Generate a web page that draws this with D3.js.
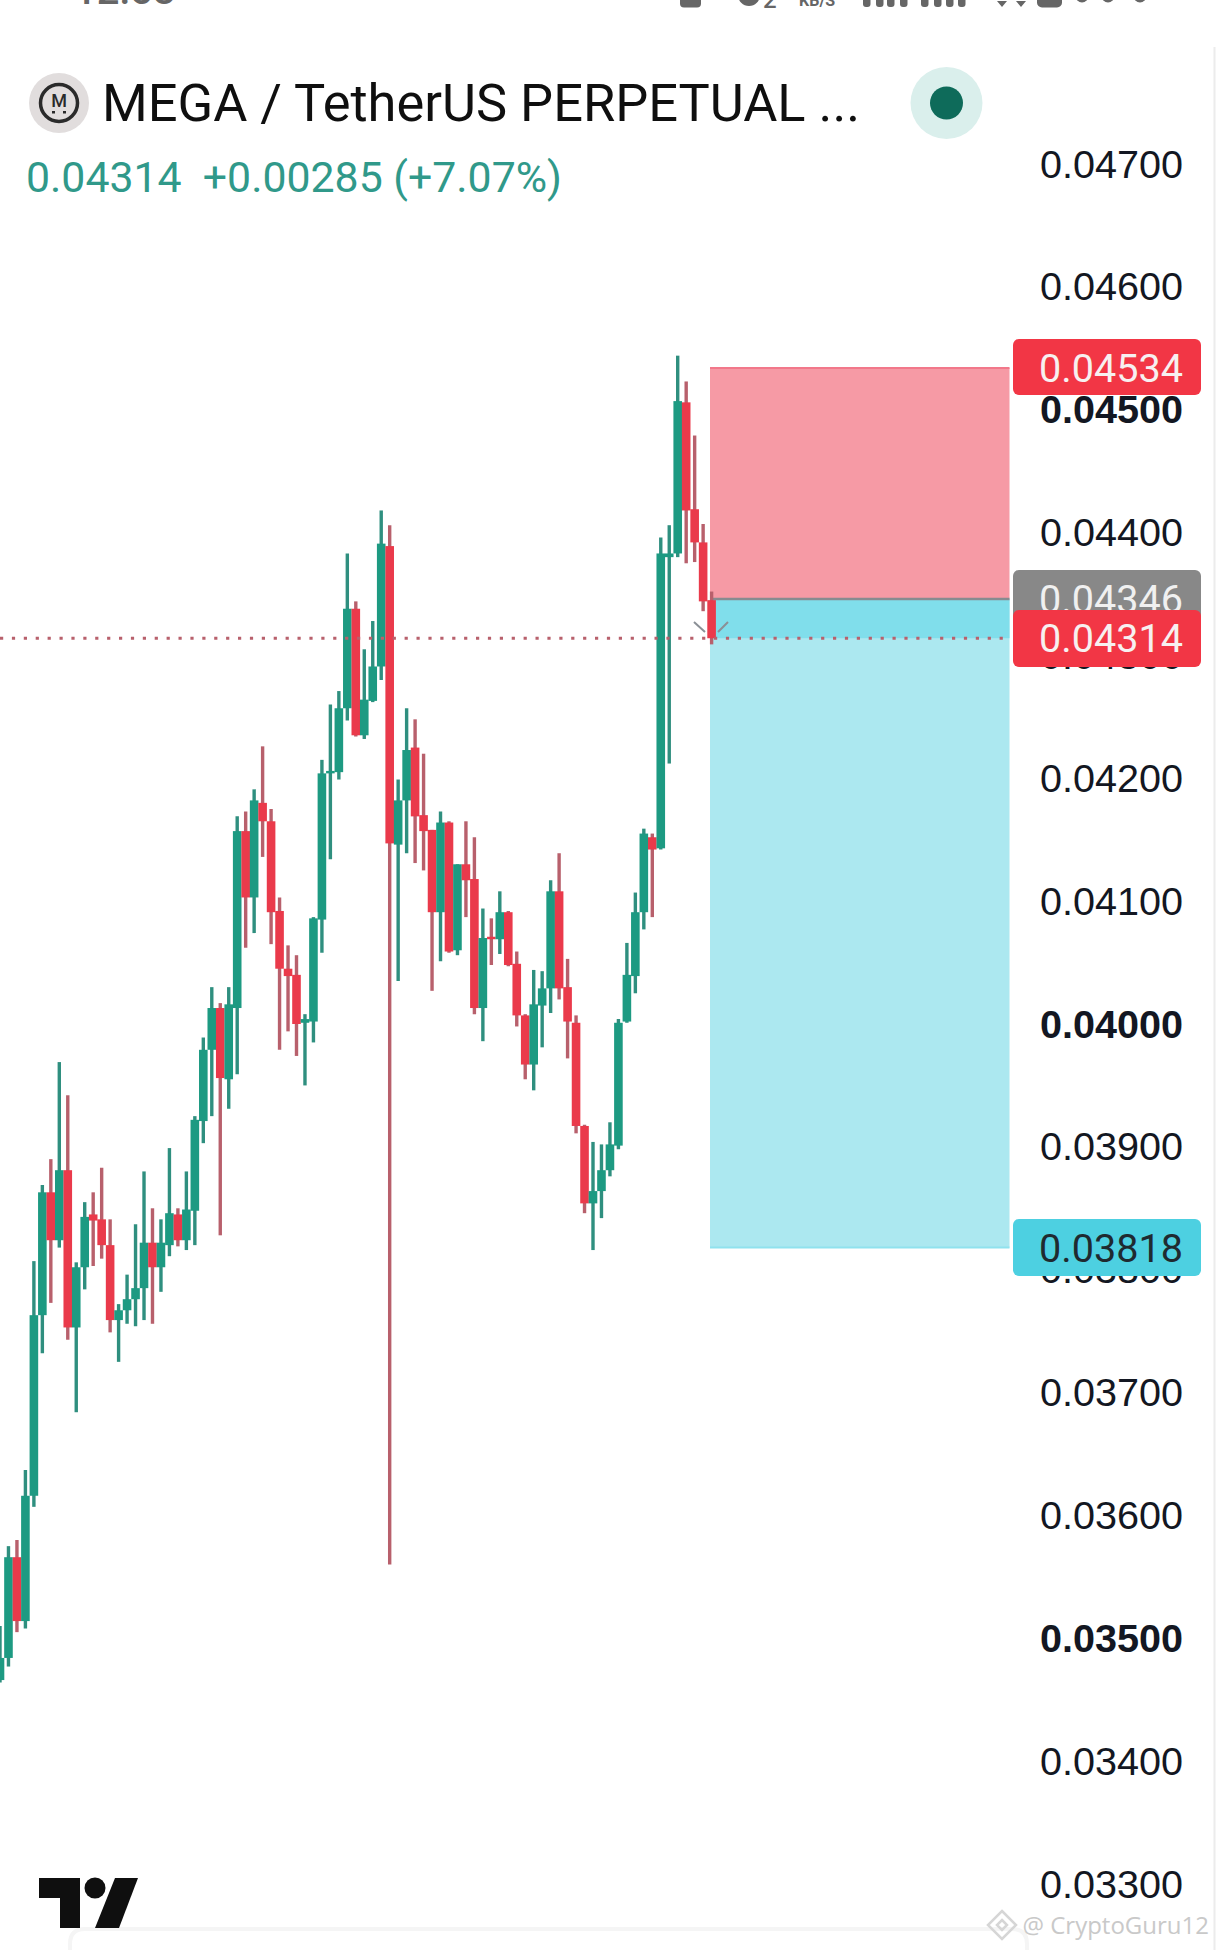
<!DOCTYPE html>
<html>
<head>
<meta charset="utf-8">
<script src="https://cdn.jsdelivr.net/npm/d3@7"></script>
<style>
    html, body { margin: 0; padding: 0; background: #fff; }
    svg { display: block; font-family: Roboto, sans-serif; }
</style>
</head>
<body>
<div id="chart"></div>
<script>
// prices below are in units of 0.00001
const opens = [3466,3484,3566,3514,3616,3763,3863,3824,3881,3753,3802,3845,3841,3820,3759,3767,3776,3785,3822,3802,3820,3845,3824,3848,3921,3979,4013,3955,4013,4157,4103,4180,4165,4092,4045,4040,4001,4002,4085,4204,4205,4257,4338,4235,4263,4291,4389,4146,4182,4225,4170,4158,4091,4164,4060,4130,4118,4013,4071,4069,4091,4049,4007,3967,4015,4029,4108,4030,4001,3917,3854,3864,3881,3901,4002,4039,4091,4152,4143,4380,4383,4506,4419,4392,4345];
const highs = [3510,3575,3580,3637,3807,3869,3890,3969,3942,3806,3855,3863,3883,3841,3772,3796,3837,3880,3850,3841,3899,3850,3880,3925,3989,4030,4017,4030,4169,4173,4191,4226,4175,4103,4064,4056,4008,4087,4215,4260,4271,4383,4344,4305,4328,4418,4406,4199,4257,4248,4220,4158,4173,4165,4130,4165,4152,4094,4086,4108,4092,4059,4008,4044,4043,4117,4139,4053,4007,3918,3904,3902,3920,4004,4066,4107,4159,4155,4396,4406,4544,4523,4479,4407,4352];
const lows = [3464,3477,3505,3508,3607,3732,3773,3818,3743,3684,3784,3803,3809,3749,3725,3756,3754,3759,3756,3782,3811,3819,3816,3820,3903,3925,3828,3931,3959,4062,4074,4136,4065,3979,3994,3974,3950,3985,4058,4134,4199,4247,4234,4232,4262,4280,3560,4035,4139,4131,4125,4027,4051,4058,4056,4087,4008,3986,4048,4057,4047,3998,3955,3946,3981,4009,4020,3972,3911,3846,3816,3842,3876,3898,4001,4025,4077,4087,4142,4212,4380,4375,4376,4336,4309];
const closes = [3484,3566,3514,3616,3763,3863,3824,3881,3753,3802,3843,3840,3820,3759,3767,3776,3785,3822,3802,3822,3846,3824,3849,3922,3979,4013,3956,4016,4157,4103,4182,4165,4091,4045,4039,4000,4004,4086,4204,4206,4257,4338,4235,4264,4291,4391,4147,4182,4223,4169,4157,4091,4164,4059,4130,4117,4013,4070,4069,4091,4048,4007,3967,4016,4029,4108,4029,4002,3917,3854,3864,3881,3902,4001,4040,4091,4155,4142,4383,4383,4507,4418,4392,4344,4314];

const priceTicks = [0.047, 0.046, 0.045, 0.044, 0.043, 0.042, 0.041, 0.04, 0.039, 0.038, 0.037, 0.036, 0.035, 0.034, 0.033];
const boldTicks = [0.045, 0.04, 0.035];

const stopPrice = 0.04534;
const entryPrice = 0.04346;
const lastPrice = 0.04314;
const targetPrice = 0.03818;

const titleText = "MEGA / TetherUS PERPETUAL ...";
const changeText = "0.04314\u00a0\u00a0+0.00285 (+7.07%)";
const watermarkText = "@ CryptoGuru12";
const clockText = "12:58";

(function () {
    "use strict";

    const width = 1216;
    const height = 1950;
    const up = "#1d9a82";
    const upWick = "#2f8f7f";
    const down = "#ea3a4b";
    const downWick = "#b8606c";

    const candles = opens.map((open, i) => ({
        index: i,
        open: open * 1e-5,
        high: highs[i] * 1e-5,
        low: lows[i] * 1e-5,
        close: closes[i] * 1e-5
    }));

    const xScale = d3.scaleLinear()
        .domain([0, candles.length - 1])
        .range([0, 711.6]);

    const yScale = d3.scaleLinear()
        .domain([0.047, 0.033])
        .range([164, 1884]);

    const svg = d3.select("#chart")
        .append("svg")
        .attr("width", width)
        .attr("height", height);

    function drawStatusBar(selection) {
        const canvas = selection.append("g")
            .attr("class", "status-bar")
            .attr("fill", "#666");

        canvas.append("text")
            .attr("x", 74).attr("y", 4)
            .style("font-size", "40px")
            .style("font-weight", 500)
            .text(clockText);

        canvas.append("rect")
            .attr("x", 680).attr("y", -12)
            .attr("width", 21).attr("height", 19.5)
            .attr("rx", 4);

        canvas.append("ellipse")
            .attr("cx", 749).attr("cy", -5)
            .attr("rx", 11).attr("ry", 11);

        canvas.append("text")
            .attr("x", 763).attr("y", 7.5)
            .style("font-size", "24px")
            .style("font-weight", 500)
            .text("2");

        canvas.append("text")
            .attr("x", 799).attr("y", 5.5)
            .style("font-size", "16px")
            .style("font-weight", 700)
            .text("KB/S");

        for (const x of [863, 876, 887, 900, 921, 934, 946, 958]) {
            canvas.append("rect")
                .attr("x", x).attr("y", -8)
                .attr("width", 7.5).attr("height", 15)
                .attr("rx", 3);
        }

        canvas.append("path")
            .attr("d", "M997,1H1007L1002,7ZM1016,1H1026L1021,7Z");

        canvas.append("rect")
            .attr("x", 1037).attr("y", -12)
            .attr("width", 25).attr("height", 19.5)
            .attr("rx", 5);

        for (const x of [1082, 1108, 1140]) {
            canvas.append("circle")
                .attr("cx", x).attr("cy", -4)
                .attr("r", 6.5);
        }
    }

    function drawPriceAxis(selection) {
        const axis = d3.axisRight(yScale)
            .tickValues(priceTicks)
            .tickSize(0)
            .tickFormat(d3.format(".5f"));

        const group = selection.append("g")
            .attr("class", "axis y-axis")
            .attr("transform", "translate(1183,0)")
            .call(axis);

        group.select(".domain").remove();

        group.selectAll(".tick text")
            .attr("x", 0)
            .attr("dy", "0.33em")
            .attr("text-anchor", "end")
            .attr("fill", "#131722")
            .style("font-size", "39.6px")
            .style("font-weight", d => boldTicks.includes(d) ? 700 : 400);
    }

    function drawPosition(selection) {
        const left = 710;
        const right = 1009.5;
        const canvas = selection.append("g").attr("class", "position");

        canvas.append("rect")
            .attr("x", left)
            .attr("y", yScale(stopPrice))
            .attr("width", right - left)
            .attr("height", yScale(entryPrice) - yScale(stopPrice))
            .attr("fill", "#f69aa5");

        canvas.append("rect")
            .attr("x", left)
            .attr("y", yScale(entryPrice))
            .attr("width", right - left)
            .attr("height", yScale(targetPrice) - yScale(entryPrice))
            .attr("fill", "#ace8f0");

        canvas.append("rect")
            .attr("x", left)
            .attr("y", yScale(entryPrice))
            .attr("width", right - left)
            .attr("height", yScale(lastPrice) - yScale(entryPrice))
            .attr("fill", "#80deeb");

        canvas.append("line")
            .attr("x1", left).attr("x2", right)
            .attr("y1", yScale(stopPrice)).attr("y2", yScale(stopPrice))
            .attr("stroke", "#f2788a")
            .attr("stroke-width", 2);

        canvas.append("line")
            .attr("x1", left).attr("x2", right)
            .attr("y1", yScale(entryPrice)).attr("y2", yScale(entryPrice))
            .attr("stroke", "#888b90")
            .attr("stroke-width", 2.5);

        canvas.append("line")
            .attr("x1", left).attr("x2", right)
            .attr("y1", yScale(targetPrice)).attr("y2", yScale(targetPrice))
            .attr("stroke", "#90e2ee")
            .attr("stroke-width", 2);
    }

    function drawCandles(selection) {
        const canvas = selection.append("g").attr("class", "candles");
        const bodyWidth = 8.6;

        const rows = canvas.selectAll(".candle")
            .data(candles)
            .enter()
            .append("g")
            .attr("class", "candle");

        rows.append("line")
            .attr("x1", d => xScale(d.index))
            .attr("x2", d => xScale(d.index))
            .attr("y1", d => yScale(d.high))
            .attr("y2", d => yScale(d.low))
            .attr("stroke", d => d.close >= d.open ? upWick : downWick)
            .attr("stroke-width", 3.4);

        rows.append("rect")
            .attr("x", d => xScale(d.index) - bodyWidth / 2)
            .attr("y", d => yScale(Math.max(d.open, d.close)))
            .attr("width", bodyWidth)
            .attr("height", d => Math.max(2, Math.abs(yScale(d.open) - yScale(d.close))))
            .attr("fill", d => d.close >= d.open ? up : down);
    }

    function drawLastPriceLine(selection) {
        selection.append("line")
            .attr("x1", 0)
            .attr("x2", 1010)
            .attr("y1", yScale(lastPrice))
            .attr("y2", yScale(lastPrice))
            .attr("stroke", "#b8606c")
            .attr("stroke-width", 3)
            .attr("stroke-dasharray", "3.2 8.7");

        selection.append("path")
            .attr("d", "M694,622L705,632M728,622L718,632")
            .attr("fill", "none")
            .attr("stroke", "#8b9096")
            .attr("stroke-width", 2);
    }

    function drawPriceLabel(selection, price, fill, color, top, bottom) {
        const group = selection.append("g").attr("class", "price-label");

        group.append("rect")
            .attr("x", 1013)
            .attr("y", top)
            .attr("width", 188)
            .attr("height", bottom - top)
            .attr("rx", 6)
            .attr("fill", fill);

        group.append("text")
            .attr("x", 1183)
            .attr("y", yScale(price))
            .attr("dy", "0.36em")
            .attr("text-anchor", "end")
            .attr("fill", color)
            .style("font-size", "39.6px")
            .text(price.toFixed(5));
    }

    function drawHeader(selection) {
        selection.append("circle")
            .attr("cx", 59).attr("cy", 103).attr("r", 30)
            .attr("fill", "#e1dddd");

        selection.append("circle")
            .attr("cx", 59).attr("cy", 103).attr("r", 18.5)
            .attr("fill", "none")
            .attr("stroke", "#2a2a2a")
            .attr("stroke-width", 3.5);

        selection.append("text")
            .attr("x", 59).attr("y", 107)
            .attr("text-anchor", "middle")
            .attr("fill", "#2a2a2a")
            .style("font-size", "18px")
            .style("font-weight", 500)
            .text("M");

        selection.append("path")
            .attr("d", "M52,111h3v2.5h-3ZM63,111h3v2.5h-3Z")
            .attr("fill", "#2a2a2a");

        selection.append("text")
            .attr("x", 102).attr("y", 120.5)
            .attr("fill", "#0f0f0f")
            .style("font-size", "52.4px")
            .text(titleText);

        selection.append("text")
            .attr("x", 26).attr("y", 191.5)
            .attr("fill", "#30998a")
            .style("font-size", "42.8px")
            .text(changeText);

        selection.append("circle")
            .attr("cx", 946.5).attr("cy", 103).attr("r", 36)
            .attr("fill", "#daefec");

        selection.append("circle")
            .attr("cx", 946.5).attr("cy", 103).attr("r", 16.5)
            .attr("fill", "#0e6b5a");
    }

    function drawFooter(selection) {
        selection.append("line")
            .attr("x1", 1214.5).attr("x2", 1214.5)
            .attr("y1", 47).attr("y2", height)
            .attr("stroke", "#ececec")
            .attr("stroke-width", 2);

        selection.append("path")
            .attr("d", "M70,1952V1944Q70,1929 85,1929H1012Q1027,1929 1027,1944V1952")
            .attr("fill", "#fff")
            .attr("stroke", "#f5f5f5")
            .attr("stroke-width", 4);

        selection.append("path")
            .attr("d", "M39,1878H80V1928H60V1898H39Z")
            .attr("fill", "#0f0f0f");

        selection.append("circle")
            .attr("cx", 95).attr("cy", 1888).attr("r", 10.5)
            .attr("fill", "#0f0f0f");

        selection.append("path")
            .attr("d", "M115,1878H138L119,1928H95Z")
            .attr("fill", "#0f0f0f");

        const mark = selection.append("g")
            .attr("fill", "none")
            .attr("stroke", "#d6d6d6")
            .attr("stroke-width", 2.5);

        mark.append("path")
            .attr("d", "M1002,1911L1016,1925L1002,1939L988,1925Z");

        mark.append("path")
            .attr("d", "M1002,1920L1007,1925L1002,1930L997,1925Z");

        selection.append("text")
            .attr("x", 1209).attr("y", 1934)
            .attr("text-anchor", "end")
            .attr("fill", "#c9c9c9")
            .style("font-family", "'Open Sans', sans-serif")
            .style("font-size", "24px")
            .text(watermarkText);
    }

    drawStatusBar(svg);
    drawPriceAxis(svg);
    drawPosition(svg);
    drawCandles(svg);
    drawLastPriceLine(svg);
    drawPriceLabel(svg, targetPrice, "#4dd0e1", "#1f2a30", 1219, 1276);
    drawPriceLabel(svg, stopPrice, "#f23645", "#f7f0f0", 339, 395);
    drawPriceLabel(svg, entryPrice, "#888888", "#f0f0f0", 570, 626);
    drawPriceLabel(svg, lastPrice, "#f23645", "#f7f0f0", 610, 667);
    drawHeader(svg);
    drawFooter(svg);
}());
</script>
</body>
</html>
